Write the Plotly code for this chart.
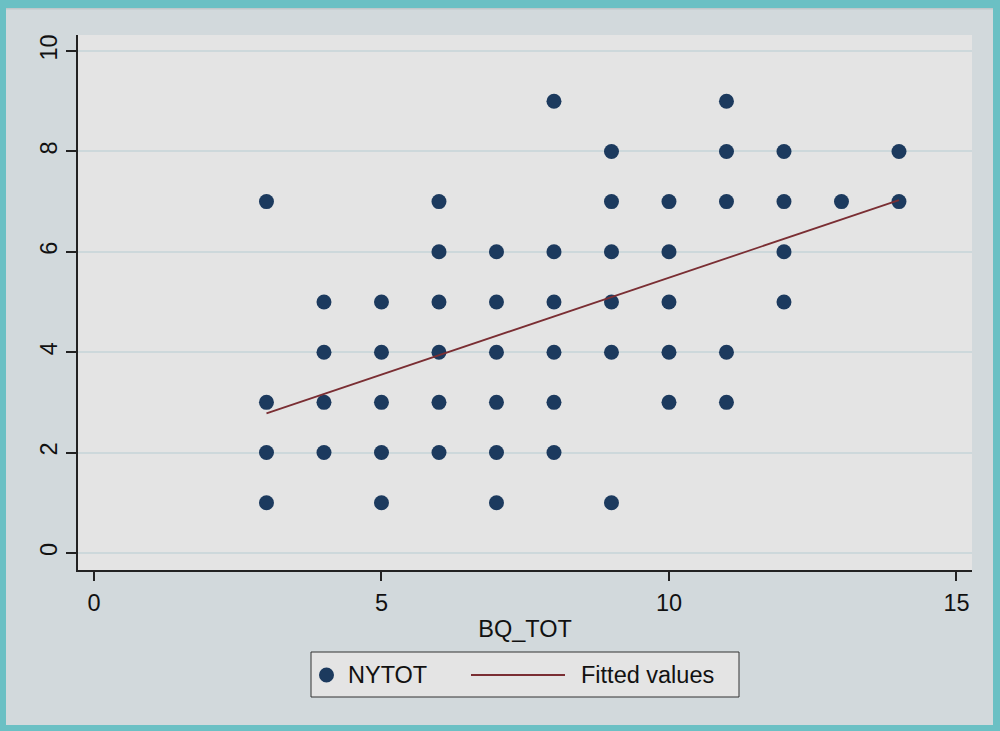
import plotly.graph_objects as go

# Data
bq_tot = [3, 3, 3, 3,
          4, 4, 4, 4,
          5, 5, 5, 5, 5,
          6, 6, 6, 6, 6, 6,
          7, 7, 7, 7, 7, 7,
          8, 8, 8, 8, 8, 8,
          9, 9, 9, 9, 9, 9,
          10, 10, 10, 10, 10,
          11, 11, 11, 11, 11,
          12, 12, 12, 12,
          13,
          14, 14]
nytot = [7, 3, 2, 1,
         5, 4, 3, 2,
         5, 4, 3, 2, 1,
         7, 6, 5, 4, 3, 2,
         6, 5, 4, 3, 2, 1,
         9, 6, 5, 4, 3, 2,
         8, 7, 6, 5, 4, 1,
         7, 6, 5, 4, 3,
         9, 8, 7, 4, 3,
         8, 7, 6, 5,
         7,
         8, 7]
fit_x = [3, 14]
fit_y = [2.78, 7.03]

x_ticks = [0, 5, 10, 15]
y_ticks = [0, 2, 4, 6, 8, 10]

W, H = 1000, 731
L, R, T, B = 78, 28, 35, 161
pw, ph = W - L - R, H - T - B

def px_x(p):
    return (p - L) / pw

def px_y(p):
    return (H - B - p) / ph

font = "Liberation Sans, Arial, Helvetica, sans-serif"
FS = 23.5
TEAL = "#6bc0c4"
DOT = "#1c3a5e"
FIT = "#7a2e33"

fig = go.Figure()
fig.add_trace(go.Scatter(
    x=bq_tot, y=nytot, mode="markers", name="NYTOT",
    marker=dict(size=15, color=DOT, line=dict(width=0)),
))
fig.add_trace(go.Scatter(
    x=fit_x, y=fit_y, mode="lines", name="Fitted values",
    line=dict(color=FIT, width=1.8),
))

def prect(x0, x1, y0, y1, **kw):
    return dict(type="rect", xref="paper", yref="paper",
                x0=px_x(x0), x1=px_x(x1), y0=px_y(y1), y1=px_y(y0), **kw)

shapes = [
    # legend box
    prect(311, 739, 652, 697, fillcolor="#e4e4e4",
          line=dict(color="#333333", width=1), layer="below"),
    # legend line sample
    dict(type="line", xref="paper", yref="paper",
         x0=px_x(471), x1=px_x(565), y0=px_y(675), y1=px_y(675),
         line=dict(color=FIT, width=1.8)),
    # legend marker sample
    dict(type="circle", xref="paper", yref="paper",
         x0=px_x(319), x1=px_x(334), y0=px_y(682.5), y1=px_y(667.5),
         fillcolor=DOT, line=dict(width=0)),
    # teal frame
    prect(-2, 6, -2, 733, fillcolor=TEAL, line=dict(width=0), layer="above"),
    prect(993, 1002, -2, 733, fillcolor=TEAL, line=dict(width=0), layer="above"),
    prect(-2, 1002, -2, 8, fillcolor=TEAL, line=dict(width=0), layer="above"),
    prect(-2, 1002, 725, 733, fillcolor=TEAL, line=dict(width=0), layer="above"),
    prect(6, 993, 8, 9.5, fillcolor="#bfc7ca", line=dict(width=0), layer="above"),
]

fig.update_layout(
    width=W, height=H,
    margin=dict(l=L, r=R, t=T, b=B, pad=0),
    paper_bgcolor="#d2d9dc",
    plot_bgcolor="#e4e4e4",
    font=dict(family=font, size=FS, color="#111111"),
    showlegend=False,
    shapes=shapes,
    xaxis=dict(
        range=[-0.278, 15.27], tickvals=x_ticks, ticktext=[str(v) for v in x_ticks],
        showgrid=False, zeroline=False,
        showline=True, linecolor="#222222", linewidth=1.5,
        ticks="outside", ticklen=9, tickwidth=1.5, tickcolor="#222222",
        ticklabelstandoff=2,
        tickfont=dict(size=FS, family=font, color="#111111"),
        title=dict(text="BQ_TOT", font=dict(size=FS, family=font, color="#111111"), standoff=6),
    ),
    yaxis=dict(
        range=[-0.34, 10.32], tickvals=y_ticks, ticktext=[str(v) for v in y_ticks],
        showgrid=True, gridcolor="#cdd8db", gridwidth=1.5, zeroline=False,
        showline=True, linecolor="#222222", linewidth=1.5,
        ticks="outside", ticklen=10, tickwidth=1.5, tickcolor="#222222",
        tickangle=-90, ticklabelstandoff=0,
        tickfont=dict(size=FS, family=font, color="#111111"),
    ),
    annotations=[
        dict(xref="paper", yref="paper", x=px_x(346), y=px_y(675),
             xanchor="left", yanchor="middle", text="NYTOT", showarrow=False,
             font=dict(size=FS, family=font, color="#111111")),
        dict(xref="paper", yref="paper", x=px_x(579), y=px_y(675),
             xanchor="left", yanchor="middle", text="Fitted values", showarrow=False,
             font=dict(size=FS, family=font, color="#111111")),
    ],
)

fig.write_html("out.html", config={"displayModeBar": False},
               post_script="document.body.style.margin='0';document.body.style.overflow='hidden';")
